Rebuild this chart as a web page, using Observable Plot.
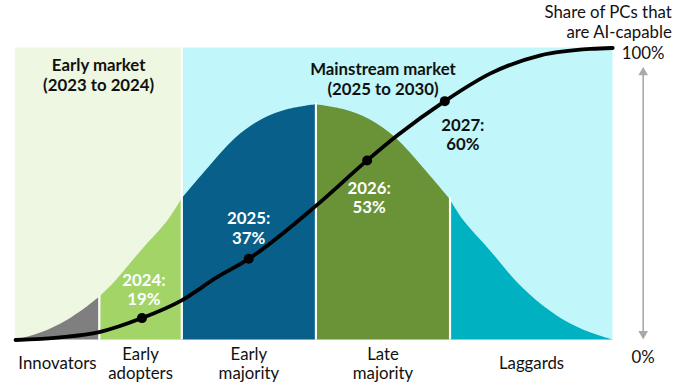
<!DOCTYPE html>
<html>
<head>
<meta charset="utf-8">
<script src="https://cdn.jsdelivr.net/npm/d3@7"></script>
<script src="https://cdn.jsdelivr.net/npm/@observablehq/plot@0.6"></script>
<style>
  html, body { margin: 0; padding: 0; background: #fff; }
  #chart svg { display: block; }
</style>
</head>
<body>
<div id="chart"></div>
<script>
// ---- Data ----
// x axis: position along the adoption timeline, in standard deviations from the bell's peak
const bellX = [-2.24, -2.1, -1.9, -1.7, -1.615, -1.5, -1.3, -1.1, -1.0, -0.8, -0.6, -0.4, -0.2, 0,
               0.2, 0.4, 0.6, 0.8, 1.0, 1.1, 1.3, 1.5, 1.7, 1.9, 2.1, 2.215];
const bellY = [0, 1.6, 5.5, 11.5, 14.6, 19.8, 30.6, 41, 48.2, 59, 69, 75.5, 79, 80.6,
               79, 75.5, 69, 59, 48.2, 41, 30.6, 19.8, 11.5, 5.5, 1.6, 0];

const segmentNames = ["Innovators", "Early\nadopters", "Early\nmajority", "Late\nmajority", "Laggards"];
const segmentEdges = [-2.24, -1.615, -1.0, 0, 1.0, 2.215];
const segmentColors = ["#7f7f7f", "#a2d468", "#075f8a", "#6a9338", "#00b1c2"];

const marketNames = ["Early market\n(2023 to 2024)", "Mainstream market\n(2025 to 2030)"];
const marketEdges = [[-2.24, -1.0], [-1.0, 2.215]];
const marketColors = ["#eef7e1", "#c1f7fa"];

// S-curve: share of PCs that are AI-capable (%)
const sCurveX = [-2.24, -1.907, -1.615, -1.297, -1.004, -0.737, -0.501, 0.004, 0.382, 0.606, 0.961, 1.302, 1.675, 2.049, 2.213];
const sCurveY = [0, 0.9, 2.7, 7.5, 13.5, 21.5, 27.8, 46.1, 61.5, 70, 81.8, 91.3, 97.5, 99.7, 100];

const years = ["2024", "2025", "2026", "2027"];
const shares = ["19%", "37%", "53%", "60%"];
const milestoneX = [-1.297, -0.501, 0.382, 0.961];
const milestoneY = [7.5, 27.8, 61.5, 81.8];

const axisTitle = "Share of PCs that\nare AI-capable";
const axisTicks = ["0%", "100%"];

// ---- Build tables ----
const bell = bellX.map((x, i) => ({x, y: bellY[i]}));
const segments = segmentNames.map((name, i) => ({
  name, lo: segmentEdges[i], hi: segmentEdges[i + 1], color: segmentColors[i],
  mid: (segmentEdges[i] + segmentEdges[i + 1]) / 2
}));
const markets = marketNames.map((name, i) => ({name, x1: marketEdges[i][0], x2: marketEdges[i][1], fill: marketColors[i]}));
const sCurve = sCurveX.map((x, i) => ({x, y: sCurveY[i]}));
const milestones = years.map((yr, i) => ({label: yr + ":\n" + shares[i], x: milestoneX[i], y: milestoneY[i]}));
const bellAt = x => bell.find(d => Math.abs(d.x - x) < 1e-9).y;

const labelStyle = [
  {fill: "#ffffff", dx: 2, dy: -29},
  {fill: "#ffffff", dx: 0, dy: -31},
  {fill: "#ffffff", dx: 2, dy: 37},
  {fill: "#111111", dx: 18, dy: 33}
];

const font = "Lato, 'Open Sans', sans-serif";
const fs = 16.8;
const rightX = 2.44;

const marks = [];
// background market panels
marks.push(Plot.rect(markets, {x1: "x1", x2: "x2", y1: 0, y2: 100, fill: "fill"}));
// bell segments
segments.forEach(s => {
  marks.push(Plot.areaY(bell.filter(d => d.x >= s.lo - 1e-9 && d.x <= s.hi + 1e-9),
    {x: "x", y: "y", fill: s.color, curve: "catmull-rom"}));
});
// white separators
marks.push(Plot.ruleX(segments.slice(1), {x: "lo", y1: 0, y2: d => d.lo === -1.0 ? 100 : bellAt(d.lo) + 0.5, stroke: "white", strokeWidth: 2.2}));
// S-curve
marks.push(Plot.line(sCurve, {x: "x", y: "y", stroke: "black", strokeWidth: 3.8, curve: "monotone-x"}));
marks.push(Plot.dot(milestones, {x: "x", y: "y", r: 5, fill: "black"}));
// milestone labels
milestones.forEach((m, i) => {
  marks.push(Plot.text([m], {x: "x", y: "y", text: "label", fill: labelStyle[i].fill, dx: labelStyle[i].dx, dy: labelStyle[i].dy,
    fontSize: fs, fontWeight: "bold", lineHeight: 1.14}));
});
// market titles
marks.push(Plot.text([markets[0]], {x: d => (d.x1 + d.x2) / 2, y: 100, dy: 27, text: "name", fontSize: fs, fontWeight: "bold", fill: "#111", lineHeight: 1.18}));
marks.push(Plot.text([markets[1]], {x: 0.5, y: 100, dy: 31, text: "name", fontSize: fs, fontWeight: "bold", fill: "#111", lineHeight: 1.18}));
// category labels
marks.push(Plot.text(segments, {x: "mid", y: 0, dy: 23, text: "name", fontSize: fs, fill: "#111", lineHeight: 1.14}));
// right axis: arrow and labels
marks.push(Plot.ruleX([rightX], {y1: 2.4, y2: 91.3, stroke: "#a9a9a9", strokeWidth: 1.6}));
marks.push(Plot.dot([{x: rightX, y: 91.6, rot: 0}, {x: rightX, y: 2.1, rot: 180}], {x: "x", y: "y", rotate: "rot", symbol: "triangle", r: 3.6, fill: "#a9a9a9"}));
marks.push(Plot.text([axisTicks[1]], {x: rightX, y: 100, dy: 6, text: d => d, fontSize: fs, fill: "#111"}));
marks.push(Plot.text([axisTicks[0]], {x: rightX, y: 0, dy: 18, text: d => d, fontSize: fs, fill: "#111"}));
marks.push(Plot.text([axisTitle], {x: 2.653, y: 100, dy: -26.5, text: d => d, textAnchor: "end", fontSize: fs, fill: "#111", lineHeight: 1.2}));

const chart = Plot.plot({
  width: 682,
  height: 387,
  marginLeft: 15,
  marginRight: 69.5,
  marginTop: 47.5,
  marginBottom: 47.5,
  x: {domain: [-2.24, 2.215], axis: null},
  y: {domain: [0, 100], axis: null},
  style: {fontFamily: font, background: "white", overflow: "visible"},
  marks
});
document.getElementById("chart").appendChild(chart);
</script>
</body>
</html>
